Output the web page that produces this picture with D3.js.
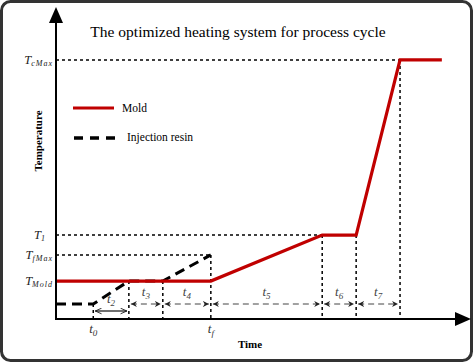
<!DOCTYPE html>
<meta charset="utf-8">
<style>
body { margin: 0; background: white; }
svg { display: block; font-family: "Liberation Serif", "DejaVu Serif", serif; }
.guide { fill: none; stroke: black; stroke-width: 1.5; stroke-dasharray: 3,3; }
.span { stroke: #444; stroke-width: 1; stroke-dasharray: 6,4; }
</style>
<body>
<svg id="chart" width="474" height="364"></svg>
<script src="https://d3js.org/d3.v7.min.js"></script>
<script>

// process timeline (arbitrary time units / temperature units)
var moldTime = [0, 37.4, 64.3, 72.5, 83.1, 93.2];
var moldTemp = [12.2, 12.2, 27, 27, 83.3, 83.3];
var resinTime = [0, 9, 17.6, 25.8, 37.4];
var resinTemp = [4.8, 4.8, 12.2, 12.2, 20.6];

var levelNames = ["T|cMax", "T|1", "T|fMax", "T|Mold"];
var levelTemps = [83.3, 27, 20.6, 12.2];
var levelEnds = [83.1, 64.3, 37.4, 0];

var spanNames = ["2", "3", "4", "5", "6", "7"];
var spanStart = [9, 17.6, 25.8, 37.4, 64.3, 72.5];
var spanEnd = [17.6, 25.8, 37.4, 64.3, 72.5, 83.1];

var tickNames = ["0", "f"];
var tickTimes = [9, 37.4];

var svg = d3.select("#chart");

var x = d3.scaleLinear().domain([0, 100]).range([56, 470]);
var y = d3.scaleLinear().domain([0, 100]).range([319, 8]);

// frame
svg.append("rect")
    .attr("x", 1.5).attr("y", 1.5)
    .attr("width", 470).attr("height", 359)
    .attr("rx", 9)
    .attr("fill", "white")
    .attr("stroke", "#333")
    .attr("stroke-width", 3);

var defs = svg.append("defs");
defs.append("marker")
    .attr("id", "tip")
    .attr("viewBox", "0 0 10 10")
    .attr("refX", 10).attr("refY", 5)
    .attr("markerWidth", 6).attr("markerHeight", 6)
    .attr("markerUnits", "userSpaceOnUse")
    .attr("orient", "auto-start-reverse")
  .append("path")
    .attr("d", "M0,0L10,5L0,10L3,5Z")
    .attr("fill", "#222");
defs.append("marker")
    .attr("id", "open")
    .attr("viewBox", "0 0 10 10")
    .attr("refX", 10).attr("refY", 5)
    .attr("markerWidth", 7).attr("markerHeight", 7)
    .attr("markerUnits", "userSpaceOnUse")
    .attr("orient", "auto-start-reverse")
  .append("path")
    .attr("d", "M1,1L10,5L1,9")
    .attr("fill", "none")
    .attr("stroke", "#111")
    .attr("stroke-width", 1.2);

svg.append("text")
    .attr("x", 238).attr("y", 37)
    .attr("text-anchor", "middle")
    .attr("font-size", 15.5)
    .text("The optimized heating system for process cycle");

// dotted guides
levelTemps.forEach(function(t, i) {
  var xe = levelEnds[i];
  if (xe > 0) {
    svg.append("line").attr("class", "guide")
        .attr("x1", x(0)).attr("x2", x(xe))
        .attr("y1", y(t)).attr("y2", y(t));
    svg.append("line").attr("class", "guide")
        .attr("x1", x(xe)).attr("x2", x(xe))
        .attr("y1", y(t)).attr("y2", y(0));
  }
});
[[72.5, 27], [9, 4.8], [17.6, 12.2], [25.8, 12.2]].forEach(function(p) {
  svg.append("line").attr("class", "guide")
      .attr("x1", x(p[0])).attr("x2", x(p[0]))
      .attr("y1", y(p[1])).attr("y2", y(0));
});

// interval arrows
spanNames.forEach(function(n, i) {
  var first = i === 0;
  var yy = first ? 311 : 304;
  svg.append("line")
      .attr("class", first ? null : "span")
      .attr("stroke", first ? "#111" : null)
      .attr("stroke-width", first ? 1.2 : null)
      .attr("x1", x(spanStart[i]) + 2).attr("x2", x(spanEnd[i]) - 2)
      .attr("y1", yy).attr("y2", yy)
      .attr("marker-start", first ? "url(#open)" : "url(#tip)")
      .attr("marker-end", first ? "url(#open)" : "url(#tip)");
  var lbl = svg.append("text")
      .attr("x", (x(spanStart[i]) + x(spanEnd[i])) / 2)
      .attr("y", first ? 303 : 296)
      .attr("text-anchor", "middle")
      .attr("font-style", "italic")
      .attr("font-size", 13)
      .attr("fill", "#444");
  lbl.append("tspan").text("t");
  lbl.append("tspan").attr("font-size", 9).attr("dy", 3).text(n);
});

// series
var line = d3.line()
    .x(function(d) { return x(d[0]); })
    .y(function(d) { return y(d[1]); });

svg.append("path")
    .datum(d3.zip(resinTime, resinTemp))
    .attr("d", line)
    .attr("fill", "none")
    .attr("stroke", "black")
    .attr("stroke-width", 3)
    .attr("stroke-dasharray", "10,6");

svg.append("path")
    .datum(d3.zip(moldTime, moldTemp))
    .attr("d", line)
    .attr("fill", "none")
    .attr("stroke", "#c00000")
    .attr("stroke-width", 3.2)
    .attr("stroke-linejoin", "miter");

// axes with arrows
svg.append("line")
    .attr("x1", x(0)).attr("x2", x(0))
    .attr("y1", y(0)).attr("y2", 20)
    .attr("stroke", "black").attr("stroke-width", 2);
svg.append("path")
    .attr("d", "M" + x(0) + ",7L" + (x(0) - 7) + ",23L" + (x(0) + 7) + ",23Z")
    .attr("fill", "black");
svg.append("line")
    .attr("x1", x(0) - 1).attr("x2", 458)
    .attr("y1", y(0)).attr("y2", y(0))
    .attr("stroke", "black").attr("stroke-width", 2);
svg.append("path")
    .attr("d", "M471," + y(0) + "L455," + (y(0) - 7) + "L455," + (y(0) + 7) + "Z")
    .attr("fill", "black");

// level labels
levelNames.forEach(function(n, i) {
  var parts = n.split("|");
  var t = svg.append("text")
      .attr("x", parts[1].length > 1 ? 53 : 46).attr("y", y(levelTemps[i]) + 4)
      .attr("text-anchor", "end")
      .attr("font-style", "italic")
      .attr("font-size", 12.5)
      .attr("fill", "#222");
  t.append("tspan").text(parts[0]);
  t.append("tspan")
      .attr("font-size", 8)
      .attr("dy", 2)
      .attr("letter-spacing", 1)
      .text(parts[1]);
});

// time ticks
tickNames.forEach(function(n, i) {
  var t = svg.append("text")
      .attr("x", x(tickTimes[i])).attr("y", 333)
      .attr("text-anchor", "middle")
      .attr("font-style", "italic")
      .attr("font-size", 13)
      .attr("fill", "#333");
  t.append("tspan").text("t");
  t.append("tspan").attr("font-size", 9).attr("dy", 3).text(n);
});

svg.append("text")
    .attr("x", 250).attr("y", 348)
    .attr("text-anchor", "middle")
    .attr("font-weight", "bold")
    .attr("font-size", 11)
    .text("Time");

svg.append("text")
    .attr("transform", "translate(42,141) rotate(-90)")
    .attr("text-anchor", "middle")
    .attr("font-weight", "bold")
    .attr("font-size", 11)
    .text("Temperature");

// legend
svg.append("line")
    .attr("x1", 73).attr("x2", 114).attr("y1", 108).attr("y2", 108)
    .attr("stroke", "#c00000").attr("stroke-width", 3);
svg.append("text")
    .attr("x", 122).attr("y", 112)
    .attr("font-size", 11.5)
    .text("Mold");
svg.append("line")
    .attr("x1", 74).attr("x2", 116).attr("y1", 138).attr("y2", 138)
    .attr("stroke", "black").attr("stroke-width", 3.5)
    .attr("stroke-dasharray", "9,7");
svg.append("text")
    .attr("x", 127).attr("y", 141)
    .attr("font-size", 11.5)
    .text("Injection resin");

</script>
</body>
